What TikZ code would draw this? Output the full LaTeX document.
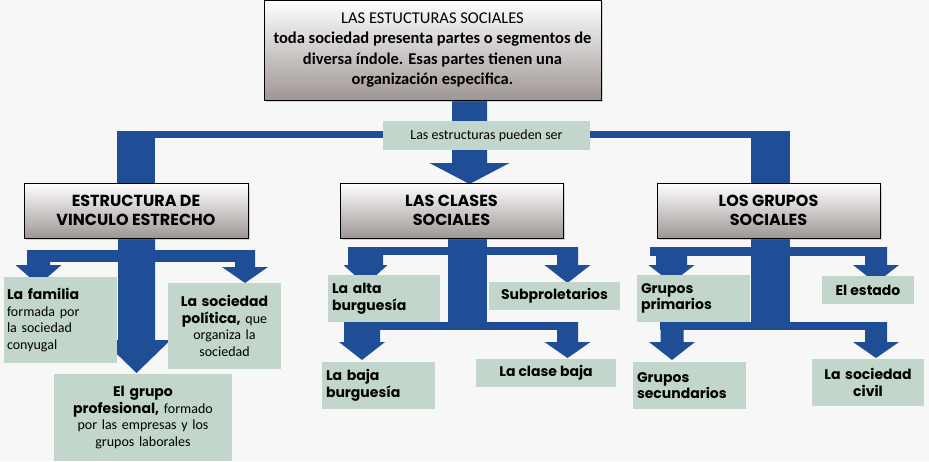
\documentclass[tikz,border=0pt]{standalone}
\usepackage{fontspec}
\setmainfont{Carlito}
\newfontfamily\hv{Poppins}
\usetikzlibrary{shadows}
\definecolor{bl}{RGB}{31,78,150}
\definecolor{bx}{RGB}{195,214,203}
\definecolor{hg}{RGB}{158,150,148}
\newcommand\bb[1]{{\hv\bfseries #1}}
\newcommand\barrow[6]{% cx, halfshaft, ytop, yhead, halfhead, ytip
  \fill[bl] (#1-#2,#3) -- (#1+#2,#3) -- (#1+#2,#4) -- (#1+#5,#4) -- (#1,#6) -- (#1-#5,#4) -- (#1-#2,#4) -- cycle;}
\begin{document}
\begin{tikzpicture}[x=1pt,y=-1pt,
  box/.style={fill=bx,inner sep=3pt,font=\fontsize{14}{16.5}\selectfont},
  head/.style={draw=black,line width=0.8pt,top color=white,bottom color=hg,drop shadow={opacity=0.3,shadow xshift=2pt,shadow yshift=-2pt},align=center,font=\hv\bfseries\fontsize{16}{19}\selectfont}]
\fill[white!97!black] (0,0) rectangle (929,461);
\useasboundingbox (0,0) rectangle (929,461);
% blue connectors
\fill[bl] (117,131) rectangle (790,138);
\fill[bl] (117,131) rectangle (155,184);
\fill[bl] (751,131) rectangle (790,184);
\barrow{469.5}{17.5}{100}{163}{40}{184}
% left subtree
\fill[bl] (27,250) rectangle (255,262);
\barrow{136.5}{18.5}{238}{340}{34}{373}
\barrow{38.5}{11.5}{250}{265}{23}{285}
\barrow{245}{10}{250}{267}{23}{283}
% middle subtree
\fill[bl] (448,238) rectangle (487,330);
\fill[bl] (348,247) rectangle (578,255);
\fill[bl] (344,322) rectangle (578,330);
\barrow{365.5}{17.5}{247}{265}{22}{285}
\barrow{567.5}{10.5}{247}{265}{23}{283}
\barrow{362}{18}{322}{342}{23}{360}
\barrow{567.5}{10.5}{322}{342}{23}{358}
% right subtree
\fill[bl] (751,238) rectangle (790,330);
\fill[bl] (650,247) rectangle (887,256);
\fill[bl] (660,322) rectangle (887,330);
\barrow{671.5}{15.5}{247}{265}{23}{283}
\barrow{876}{11}{247}{265}{23}{283}
\barrow{672}{11.5}{322}{342}{23}{360}
\barrow{876}{11}{322}{342}{23}{358}
% boxes
\node[head,minimum width=337pt,minimum height=100pt,font=\fontsize{16.5}{20.5}\selectfont] (top) at (432.5,50)
 {LAS ESTUCTURAS SOCIALES\\ \textbf{toda sociedad presenta partes o segmentos de}\\ \textbf{diversa índole. Esas partes tienen una}\\ \textbf{organización especifica.}};
\node[box,minimum width=207pt,minimum height=29pt] (lab) at (486.5,135.5) {Las estructuras pueden ser};
\node[head,minimum width=224pt,minimum height=55pt] (h1) at (136,210.5) {ESTRUCTURA DE\\VINCULO ESTRECHO};
\node[head,minimum width=223pt,minimum height=55pt] (h2) at (451.5,210.5) {LAS CLASES\\SOCIALES};
\node[head,minimum width=223pt,minimum height=55pt] (h3) at (768.5,210.5) {LOS GRUPOS\\SOCIALES};
\node[box,minimum width=113pt,minimum height=86pt,text width=107pt,align=left] (fam) at (60.5,320) {\bb{La familia}\\formada por\\la sociedad\\conyugal};
\node[box,minimum width=113pt,minimum height=86pt,text width=107pt,align=center] (pol) at (224.5,326) {\bb{La sociedad}\\\bb{política,} que\\organiza la\\sociedad};
\node[box,minimum width=176pt,minimum height=87pt,text width=172pt,align=center] (gru) at (143,417.5) {\bb{El grupo}\\\bb{profesional,} formado\\por las empresas y los\\grupos laborales};
\node[box,minimum width=112pt,minimum height=47pt,text width=104pt,align=left] (alta) at (384,298.5) {\bb{La alta}\\\bb{burguesía}};
\node[box,minimum width=131pt,minimum height=28pt] (sub) at (554.5,296) {\bb{Subproletarios}};
\node[box,minimum width=113pt,minimum height=47pt,text width=105pt,align=left] (baja) at (378.5,385.5) {\bb{La baja}\\\bb{burguesía}};
\node[box,minimum width=140pt,minimum height=28pt] (cb) at (546,373) {\bb{La clase baja}};
\node[box,minimum width=113pt,minimum height=47pt,text width=105pt,align=left] (pri) at (693.5,298.5) {\bb{Grupos}\\\bb{primarios}};
\node[box,minimum width=92pt,minimum height=28pt] (est) at (868,290) {\bb{El estado}};
\node[box,minimum width=113pt,minimum height=47pt,text width=105pt,align=left] (sec) at (689.5,385.5) {\bb{Grupos}\\\bb{secundarios}};
\node[box,minimum width=112pt,minimum height=47pt,text width=104pt,align=center] (civ) at (868,382.5) {\bb{La sociedad}\\\bb{civil}};
\end{tikzpicture}
\end{document}
